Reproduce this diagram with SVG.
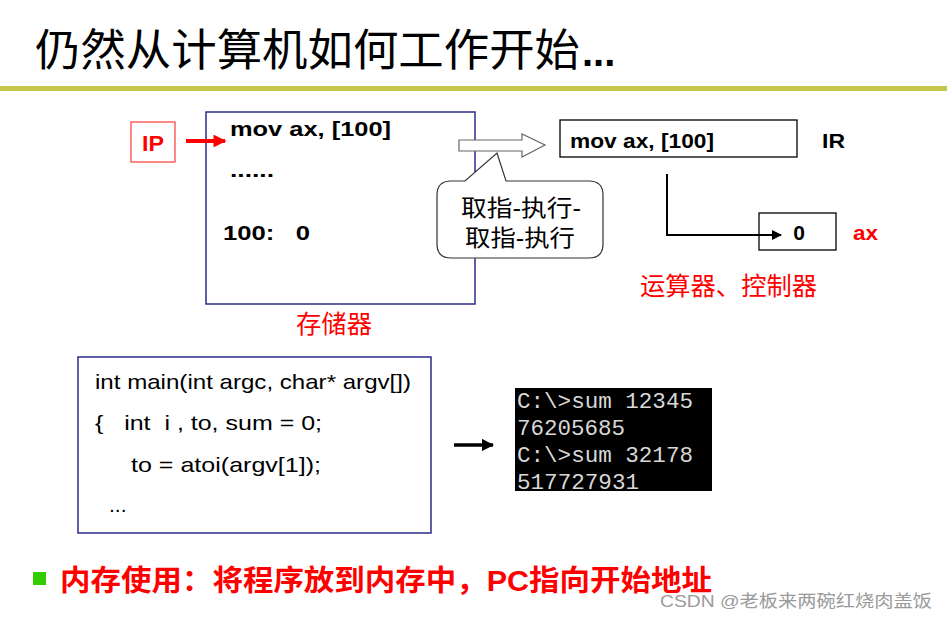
<svg xmlns="http://www.w3.org/2000/svg" width="947" height="619" viewBox="0 0 947 619">
<style>
.cjk{font-family:"Liberation Sans","Noto Sans CJK SC",sans-serif}
.b{font-weight:bold}
.red{fill:#ff0000}
.code{font-family:"Liberation Sans","Noto Sans CJK SC",sans-serif;font-size:21px;fill:#000}
.term{font-family:"Liberation Mono","DejaVu Sans Mono",monospace;font-size:22px;fill:#d8d8d8}
.box{fill:#fff;stroke:#000;stroke-width:1.3}
.navy{fill:#fff;stroke:#2b2b8c;stroke-width:1.5}
</style>
<defs>
<marker id="ah" viewBox="0 0 10 10" refX="9" refY="5" markerWidth="5" markerHeight="5" orient="auto" markerUnits="strokeWidth"><path d="M0,0 L10,5 L0,10 z" fill="#000"/></marker>
<marker id="ahr" viewBox="0 0 10 10" refX="9" refY="5" markerWidth="3.2" markerHeight="3.2" orient="auto" markerUnits="strokeWidth"><path d="M0,0 L10,5 L0,10 z" fill="#ff0000"/></marker>
<marker id="ahb" viewBox="0 0 10 10" refX="9" refY="5" markerWidth="3.5" markerHeight="3.5" orient="auto" markerUnits="strokeWidth"><path d="M0,0 L10,5 L0,10 z" fill="#000"/></marker>
</defs>
<rect width="947" height="619" fill="#fff"/>
<g id="title">
<text x="35" y="66" class="cjk" font-size="44" textLength="545" lengthAdjust="spacingAndGlyphs">仍然从计算机如何工作开始</text>
<text x="582" y="66" class="cjk b" font-size="40">...</text>
<rect x="0" y="86" width="947" height="5" fill="#c6c64a"/>
</g>
<g id="ip">
<rect x="131" y="122" width="44" height="40" fill="#fff" stroke="#ff4a4a" stroke-width="1.3"/>
<text x="142" y="151" class="cjk b red" font-size="22" textLength="22" lengthAdjust="spacingAndGlyphs">IP</text>
</g>
<g id="memory">
<rect x="206" y="112" width="269" height="192" class="navy"/>
<text x="230" y="136" class="cjk b" font-size="20" textLength="161" lengthAdjust="spacingAndGlyphs">mov ax, [100]</text>
<text x="230" y="177" class="cjk b" font-size="20" textLength="44" lengthAdjust="spacingAndGlyphs">......</text>
<text x="223" y="240" class="cjk b" font-size="20" xml:space="preserve" textLength="87" lengthAdjust="spacingAndGlyphs">100:   0</text>
<text x="296" y="333" class="cjk red" font-size="25" textLength="76" lengthAdjust="spacingAndGlyphs">存储器</text>
</g>
<g id="fetch-arrow">
<path d="M459,140 L522,140 L522,134 L545,145 L522,157 L522,151 L459,151 Z" fill="#fff" stroke="#666" stroke-width="1.2"/>
</g>
<g id="callout">
<path d="M451,181 L465,181 L497,153 L506,181 L589,181 Q603,181 603,195 L603,244 Q603,258 589,258 L451,258 Q437,258 437,244 L437,195 Q437,181 451,181 Z" fill="#fff" stroke="#333" stroke-width="1.2"/>
<text x="461" y="216" class="cjk" font-size="23" textLength="120" lengthAdjust="spacingAndGlyphs">取指-执行-</text>
<text x="465" y="246" class="cjk" font-size="23" textLength="110" lengthAdjust="spacingAndGlyphs">取指-执行</text>
</g>
<g id="ir">
<rect x="560" y="120" width="237" height="37" class="box"/>
<text x="570" y="148" class="cjk b" font-size="20" textLength="144" lengthAdjust="spacingAndGlyphs">mov ax, [100]</text>
<text x="822" y="148" class="cjk b" font-size="20" textLength="23" lengthAdjust="spacingAndGlyphs">IR</text>
</g>
<g id="ax">
<rect x="759" y="213" width="77" height="37" class="box"/>
<text x="799" y="240" text-anchor="middle" class="cjk b" font-size="21">0</text>
<text x="853" y="240" class="cjk b red" font-size="21" textLength="25" lengthAdjust="spacingAndGlyphs">ax</text>
</g>
<text x="640" y="295" class="cjk red" font-size="25" textLength="177" lengthAdjust="spacingAndGlyphs">运算器、控制器</text>
<g id="code">
<rect x="78" y="357" width="353" height="176" class="navy"/>
<text x="95" y="389" class="code" textLength="316" lengthAdjust="spacingAndGlyphs">int main(int argc, char* argv[])</text>
<text x="95" y="430" class="code" xml:space="preserve" textLength="227" lengthAdjust="spacingAndGlyphs">{   int  i , to, sum = 0;</text>
<text x="131" y="472" class="code" textLength="190" lengthAdjust="spacingAndGlyphs">to = atoi(argv[1]);</text>
<text x="109" y="512" class="code">...</text>
</g>
<g id="terminal">
<rect x="515" y="388" width="197" height="103" fill="#000"/>
<text x="517" y="408" class="term" textLength="176" lengthAdjust="spacingAndGlyphs">C:\&gt;sum 12345</text>
<text x="517" y="435" class="term" textLength="108" lengthAdjust="spacingAndGlyphs">76205685</text>
<text x="517" y="462" class="term" textLength="176" lengthAdjust="spacingAndGlyphs">C:\&gt;sum 32178</text>
<text x="517" y="489" class="term" textLength="122" lengthAdjust="spacingAndGlyphs">517727931</text>
</g>
<g id="connectors">
<line x1="186" y1="141" x2="225" y2="141" stroke="#ff0000" stroke-width="4" marker-end="url(#ahr)"/>
<polyline points="667,174 667,235 781,235" fill="none" stroke="#000" stroke-width="2" marker-end="url(#ah)"/>
<line x1="454" y1="445" x2="493" y2="445" stroke="#000" stroke-width="3.5" marker-end="url(#ahb)"/>
</g>
<g id="bullet">
<rect x="33" y="572" width="13" height="13" fill="#33cc00"/>
<text x="60" y="591" class="cjk b red" font-size="29" textLength="652" lengthAdjust="spacingAndGlyphs">内存使用：将程序放到内存中，PC指向开始地址</text>
</g>
<text x="660" y="607" class="cjk" font-size="17" fill="#9a9a9a" textLength="272" lengthAdjust="spacingAndGlyphs">CSDN @老板来两碗红烧肉盖饭</text>
</svg>
